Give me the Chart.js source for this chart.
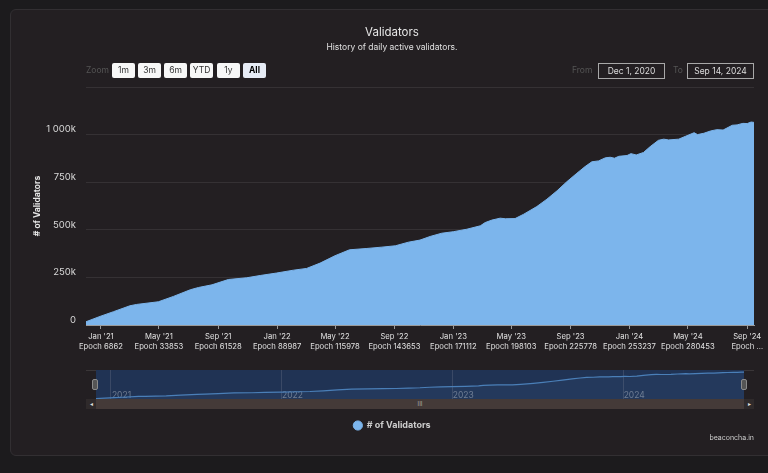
<!DOCTYPE html>
<html><head><meta charset="utf-8">
<script src="https://cdn.jsdelivr.net/npm/chart.js@4"></script>
<style>
html,body{margin:0;padding:0;width:768px;height:473px;overflow:hidden;background:#1c1b1d;font-family:Inter,sans-serif}
#panel{position:absolute;left:10px;top:9px;width:790px;height:447px;box-sizing:border-box;background:#231f22;border:1px solid #322f32;border-radius:6px}
#main{position:absolute;left:0;top:0}
#nav{position:absolute;left:96px;top:370px;background:#203354}
.abs{position:absolute}
.btn{position:absolute;top:63px;height:15px;line-height:15px;text-align:center;font-size:8.5px;background:#f7f7f7;color:#333;border-radius:2px}
.lab{position:absolute;top:65px;font-size:8.5px;color:#555;line-height:11px}
.date{position:absolute;top:63px;height:16px;box-sizing:border-box;border:1px solid #a8a8a8;color:#ddd;font-size:8.5px;line-height:14px;text-align:center}
.handle{position:absolute;top:379px;width:6px;height:11px;box-sizing:border-box;background:#555;border:1px solid #8a8a8a;border-radius:2px}
</style></head><body>
<div id="panel"></div>
<canvas id="main" width="768" height="473"></canvas>
<div class="lab" style="left:86px">Zoom</div>
<div class="btn" style="left:112px;width:23px">1m</div>
<div class="btn" style="left:138px;width:23px">3m</div>
<div class="btn" style="left:164px;width:23px">6m</div>
<div class="btn" style="left:190px;width:23px">YTD</div>
<div class="btn" style="left:217px;width:23px">1y</div>
<div class="btn" style="left:243px;width:23px;background:#e6ebf5;color:#000;font-weight:700">All</div>
<div class="lab" style="left:572px">From</div>
<div class="date" style="left:598px;width:67px">Dec 1, 2020</div>
<div class="lab" style="left:673px">To</div>
<div class="date" style="left:687px;width:67px">Sep 14, 2024</div>
<div class="abs" style="left:86px;top:370px;width:668px;height:1px;background:#3a3638"></div>
<canvas id="nav" width="648" height="29"></canvas>
<div class="abs" style="left:86px;top:399px;width:668px;height:10px;background:#443a38"></div>
<div class="abs" style="left:86px;top:399px;width:10px;height:10px;background:#2f2a2b;color:#ddd;font-size:6px;line-height:10px;text-align:center">◂</div>
<div class="abs" style="left:744px;top:399px;width:10px;height:10px;background:#2f2a2b;color:#ddd;font-size:6px;line-height:10px;text-align:center">▸</div>
<div class="abs" style="left:416px;top:399px;width:8px;height:10px;color:#aaa;font-size:6px;line-height:10px;text-align:center">III</div>
<div class="handle" style="left:92px"></div>
<div class="handle" style="left:741px"></div>
<div class="abs" style="right:14px;top:433px;font-size:7px;line-height:10px;color:#ccc">beaconcha.in</div>
<script>
const seriesName = '# of Validators';
const days = [0,29,57,91,105,150,181,216,233,261,295,333,361,395,430,457,485,516,546,582,613,641,668,692,713,737,761,789,817,827,841,858,869,889,907,934,955,976,996,1017,1034,1048,1062,1076,1086,1095,1104,1121,1129,1140,1155,1169,1186,1197,1207,1228,1242,1260,1267,1280,1294,1307,1320,1339,1349,1361,1370,1378,1384];
const validators = [17000,45000,70000,101000,108000,122000,150000,185000,197000,211000,239000,248000,260000,273000,288000,297000,325000,364000,395000,402000,409000,416000,435000,446000,465000,482000,490000,503000,521000,538000,551000,561000,558000,559000,582000,622000,661000,705000,752000,797000,832000,857000,862000,878000,881000,876000,886000,890000,900000,893000,906000,937000,970000,976000,972000,976000,991000,1010000,1000000,1007000,1019000,1026000,1024000,1049000,1051000,1059000,1058000,1066000,1064000];
const tickDays = [31,151,274,396,516,639,761,881,1004,1126,1247,1370];
const tickMonths = ["Jan '21","May '21","Sep '21","Jan '22","May '22","Sep '22","Jan '23","May '23","Sep '23","Jan '24","May '24","Sep '24"];
const tickEpochs = ["Epoch 6862","Epoch 33853","Epoch 61528","Epoch 88987","Epoch 115978","Epoch 143653","Epoch 171112","Epoch 198103","Epoch 225778","Epoch 253237","Epoch 280453","Epoch …"];
const navYearDays = [31,396,761,1126];
const navYears = ['2021','2022','2023','2024'];
const points = days.map((d,i)=>({x:d,y:validators[i]}));
const font = 'Inter, sans-serif';
new Chart(document.getElementById('main'),{
  type:'line',
  data:{datasets:[{label:seriesName,data:points,fill:'origin',backgroundColor:'#7cb5ec',borderColor:'#7cb5ec',borderWidth:1,pointRadius:0,tension:0}]},
  options:{
    responsive:false,animation:false,
    layout:{padding:{left:30,right:14,top:24,bottom:33}},
    plugins:{
      title:{display:true,text:'Validators',color:'#e6e6e6',font:{family:font,size:11.5,weight:'400'},padding:{top:2,bottom:3}},
      subtitle:{display:true,text:'History of daily active validators.',color:'#e0e0e0',font:{family:font,size:8.5,weight:'400'},padding:{top:0,bottom:34}},
      legend:{display:true,position:'bottom',labels:{usePointStyle:true,pointStyle:'circle',boxWidth:9,boxHeight:6.5,padding:8,color:'#cccccc',font:{family:font,size:9,weight:'700'}}},
      tooltip:{enabled:false}
    },
    scales:{
      x:{type:'linear',min:0,max:1384,
        afterBuildTicks:s=>{s.ticks=tickDays.map(v=>({value:v}));},
        afterFit:s=>{s.height=88;},
        border:{color:'#9a9a9a',width:1},
        grid:{drawOnChartArea:false,drawTicks:true,tickLength:4,tickColor:'#9a9a9a'},
        ticks:{autoSkip:false,maxRotation:0,minRotation:0,padding:3,color:'#e0e0e0',font:{family:font,size:7.7,lineHeight:1.3},
          callback:(v)=>{const i=tickDays.indexOf(v);return [tickMonths[i],tickEpochs[i]];}}
      },
      y:{min:0,max:1250000,
        afterFit:s=>{s.width=56;},
        border:{display:false},
        grid:{color:'#353134',lineWidth:1,drawTicks:false},
        title:{display:true,text:seriesName,color:'#e6e6e6',font:{family:font,size:8.5,weight:'700'},padding:{top:2,bottom:0}},
        ticks:{stepSize:250000,padding:10,labelOffset:-5,color:'#d8d8d8',font:{family:font,size:9.5},
          callback:v=>v===0?'0':v===1250000?'':v===1000000?'1 000k':(v/1000)+'k'}
      }
    }
  }
});
new Chart(document.getElementById('nav'),{
  type:'line',
  data:{datasets:[{label:seriesName,data:points,fill:'origin',backgroundColor:'rgba(124,181,236,0.05)',borderColor:'#4a7fb8',borderWidth:1.2,pointRadius:0,tension:0}]},
  options:{
    responsive:false,animation:false,
    layout:{padding:0},
    plugins:{legend:{display:false},title:{display:false},tooltip:{enabled:false}},
    scales:{
      x:{type:'linear',min:0,max:1384,
        afterBuildTicks:s=>{s.ticks=navYearDays.map(v=>({value:v}));},
        afterFit:s=>{s.height=0;},
        border:{display:false},
        grid:{color:'#3a4966',lineWidth:1,drawTicks:false},
        ticks:{mirror:true,autoSkip:false,maxRotation:0,minRotation:0,padding:-2,labelOffset:11,color:'#6f7b90',font:{family:font,size:8.5},
          callback:v=>navYears[navYearDays.indexOf(v)]}
      },
      y:{display:false,min:0,max:1150000}
    }
  }
});
</script>
</body></html>
